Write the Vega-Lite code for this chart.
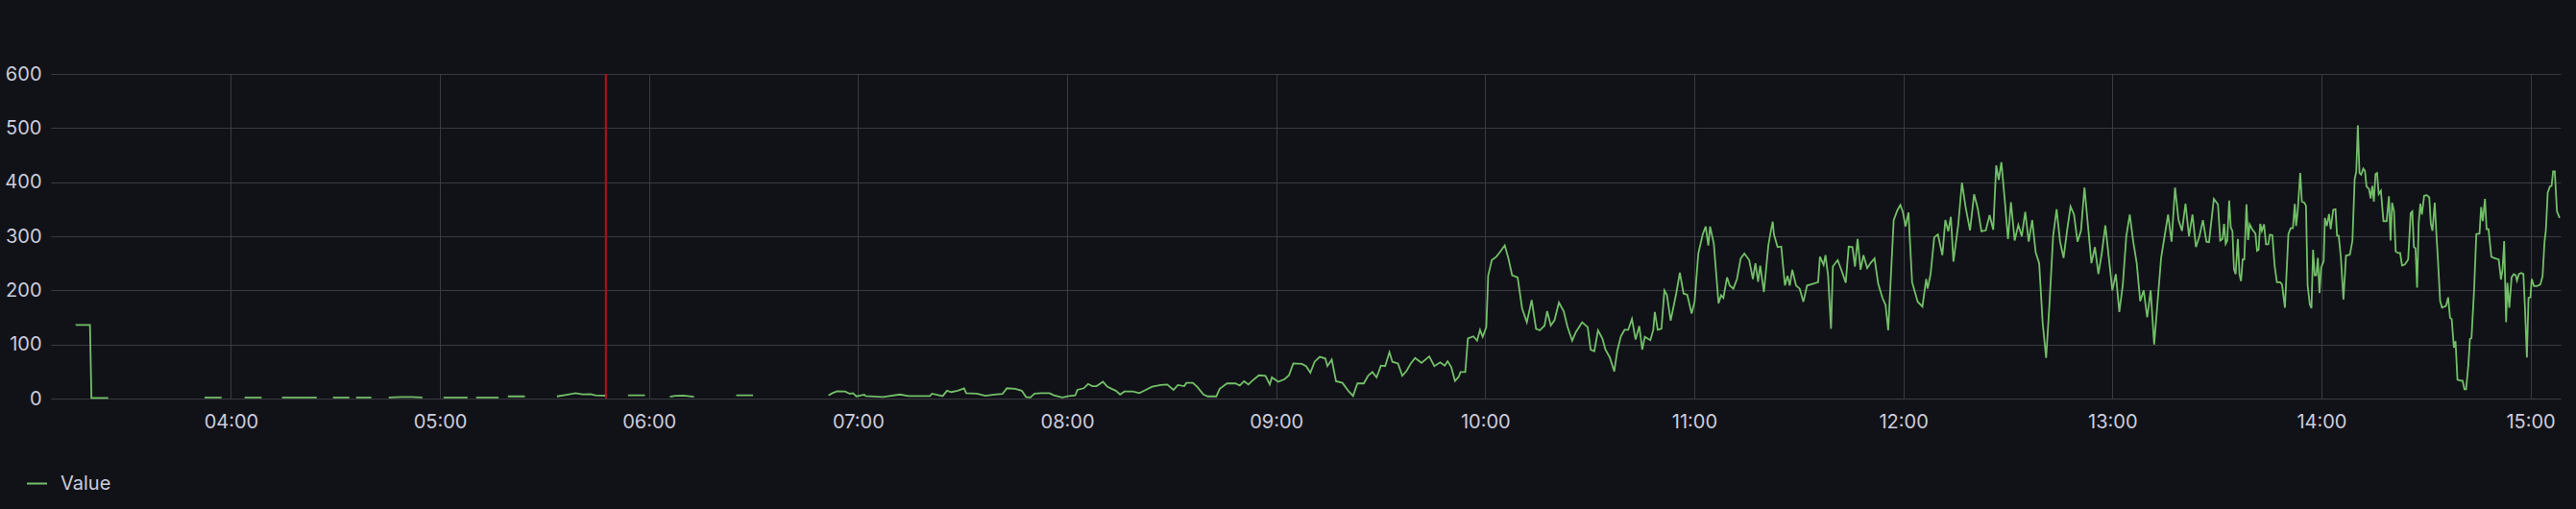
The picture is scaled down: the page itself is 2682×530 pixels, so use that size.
{
  "$schema": "https://vega.github.io/schema/vega-lite/v6.json",
  "width": 2613,
  "height": 338,
  "autosize": {"type": "none"},
  "padding": {"left": 53, "top": 77, "right": 16, "bottom": 115},
  "background": "#111217",
  "config": {
    "view": {"stroke": null},
    "font": "Inter",
    "axis": {"domain": false, "ticks": false, "gridColor": "#3a3b40", "gridWidth": 1, "labelColor": "#ccccdc", "labelFont": "Inter", "labelFontSize": 20, "title": null, "labelFlush": false}
  },
  "layer": [
    {
      "data": {
        "values": [
          {"t":"2024-01-01T03:15:25","v":136},{"t":"2024-01-01T03:19:33","v":136},{"t":"2024-01-01T03:19:58","v":1},{"t":"2024-01-01T03:24:47","v":1},{"t":"2024-01-01T03:30:00","v":null},
          {"t":"2024-01-01T03:52:27","v":2},{"t":"2024-01-01T03:57:20","v":2},{"t":"2024-01-01T04:00:30","v":null},
          {"t":"2024-01-01T04:03:56","v":2},{"t":"2024-01-01T04:08:49","v":2},{"t":"2024-01-01T04:11:00","v":null},
          {"t":"2024-01-01T04:14:40","v":2},{"t":"2024-01-01T04:24:39","v":2},{"t":"2024-01-01T04:27:00","v":null},
          {"t":"2024-01-01T04:29:18","v":2},{"t":"2024-01-01T04:34:00","v":2},{"t":"2024-01-01T04:35:00","v":null},
          {"t":"2024-01-01T04:35:56","v":2},{"t":"2024-01-01T04:40:19","v":2},{"t":"2024-01-01T04:43:00","v":null},
          {"t":"2024-01-01T04:45:18","v":2},{"t":"2024-01-01T04:49:00","v":3},{"t":"2024-01-01T04:52:00","v":3},{"t":"2024-01-01T04:54:58","v":2},{"t":"2024-01-01T04:58:00","v":null},
          {"t":"2024-01-01T05:01:01","v":2},{"t":"2024-01-01T05:07:55","v":2},{"t":"2024-01-01T05:09:00","v":null},
          {"t":"2024-01-01T05:10:24","v":2},{"t":"2024-01-01T05:16:49","v":2},{"t":"2024-01-01T05:18:00","v":null},
          {"t":"2024-01-01T05:19:30","v":4},{"t":"2024-01-01T05:24:22","v":4},{"t":"2024-01-01T05:29:00","v":null},
          {"t":"2024-01-01T05:33:34","v":4},{"t":"2024-01-01T05:36:19","v":7},{"t":"2024-01-01T05:38:53","v":10},{"t":"2024-01-01T05:40:55","v":7.7},{"t":"2024-01-01T05:43:13","v":8.3},{"t":"2024-01-01T05:44:35","v":6},{"t":"2024-01-01T05:47:49","v":5.3},{"t":"2024-01-01T05:50:00","v":null},
          {"t":"2024-01-01T05:53:58","v":6},{"t":"2024-01-01T05:58:50","v":6},{"t":"2024-01-01T06:02:00","v":null},
          {"t":"2024-01-01T06:06:00","v":3.5},{"t":"2024-01-01T06:07:34","v":5},{"t":"2024-01-01T06:09:52","v":5.5},{"t":"2024-01-01T06:12:54","v":3.5},{"t":"2024-01-01T06:19:00","v":null},
          {"t":"2024-01-01T06:25:02","v":6},{"t":"2024-01-01T06:29:53","v":6},{"t":"2024-01-01T06:40:00","v":null},
          {"t":"2024-01-01T06:51:31","v":5.9},{"t":"2024-01-01T06:52:37","v":10},{"t":"2024-01-01T06:53:59","v":13.6},{"t":"2024-01-01T06:56:17","v":13},{"t":"2024-01-01T06:57:40","v":8.9},{"t":"2024-01-01T06:58:34","v":10},{"t":"2024-01-01T06:59:30","v":4},{"t":"2024-01-01T07:00:53","v":6},{"t":"2024-01-01T07:01:47","v":7},
          {"t":"2024-01-01T07:02:13","v":4.6},{"t":"2024-01-01T07:07:07","v":3},{"t":"2024-01-01T07:12:01","v":7.5},{"t":"2024-01-01T07:14:29","v":4.6},{"t":"2024-01-01T07:20:37","v":4.6},{"t":"2024-01-01T07:21:14","v":9},{"t":"2024-01-01T07:24:17","v":4.6},{"t":"2024-01-01T07:25:31","v":14.5},{"t":"2024-01-01T07:26:45","v":12},{"t":"2024-01-01T07:28:35","v":14.5},{"t":"2024-01-01T07:30:26","v":19},{"t":"2024-01-01T07:31:02","v":10},{"t":"2024-01-01T07:34:07","v":9},{"t":"2024-01-01T07:36:34","v":5},{"t":"2024-01-01T07:39:01","v":7.5},{"t":"2024-01-01T07:41:28","v":8.5},{"t":"2024-01-01T07:42:42","v":19},{"t":"2024-01-01T07:45:09","v":18},{"t":"2024-01-01T07:46:59","v":14.5},{"t":"2024-01-01T07:48:13","v":3},{"t":"2024-01-01T07:49:27","v":2},{"t":"2024-01-01T07:50:40","v":9},{"t":"2024-01-01T07:52:31","v":10},{"t":"2024-01-01T07:54:58","v":10},{"t":"2024-01-01T07:56:12","v":6},{"t":"2024-01-01T07:58:39","v":2},
          {"t":"2024-01-01T08:00:29","v":4.6},{"t":"2024-01-01T08:02:20","v":5.8},{"t":"2024-01-01T08:02:57","v":16},{"t":"2024-01-01T08:04:47","v":19},{"t":"2024-01-01T08:06:01","v":27},{"t":"2024-01-01T08:07:14","v":23},{"t":"2024-01-01T08:08:28","v":23},{"t":"2024-01-01T08:10:18","v":31},{"t":"2024-01-01T08:11:32","v":22},{"t":"2024-01-01T08:12:46","v":18},{"t":"2024-01-01T08:13:59","v":14.5},{"t":"2024-01-01T08:15:13","v":7.5},{"t":"2024-01-01T08:16:26","v":13},{"t":"2024-01-01T08:18:54","v":13},{"t":"2024-01-01T08:20:44","v":10},{"t":"2024-01-01T08:22:35","v":16},{"t":"2024-01-01T08:24:25","v":22},{"t":"2024-01-01T08:26:52","v":25},{"t":"2024-01-01T08:28:43","v":26},{"t":"2024-01-01T08:30:33","v":16},{"t":"2024-01-01T08:31:47","v":25},{"t":"2024-01-01T08:33:37","v":23},{"t":"2024-01-01T08:34:14","v":29},{"t":"2024-01-01T08:36:04","v":29},{"t":"2024-01-01T08:37:18","v":22},{"t":"2024-01-01T08:39:08","v":7.5},{"t":"2024-01-01T08:40:22","v":4},{"t":"2024-01-01T08:42:49","v":4},{"t":"2024-01-01T08:43:48","v":18},{"t":"2024-01-01T08:45:53","v":28},{"t":"2024-01-01T08:48:20","v":28},{"t":"2024-01-01T08:49:34","v":24},{"t":"2024-01-01T08:50:48","v":32},{"t":"2024-01-01T08:52:01","v":26},{"t":"2024-01-01T08:53:15","v":33.5},{"t":"2024-01-01T08:55:05","v":43},{"t":"2024-01-01T08:56:56","v":42},{"t":"2024-01-01T08:58:10","v":26},{"t":"2024-01-01T08:58:46","v":39},
          {"t":"2024-01-01T09:00:37","v":31},{"t":"2024-01-01T09:02:27","v":36},{"t":"2024-01-01T09:03:41","v":43},{"t":"2024-01-01T09:04:55","v":65},{"t":"2024-01-01T09:07:22","v":64},{"t":"2024-01-01T09:08:35","v":60},{"t":"2024-01-01T09:09:49","v":48},{"t":"2024-01-01T09:11:02","v":68},{"t":"2024-01-01T09:12:31","v":77},{"t":"2024-01-01T09:14:07","v":74},{"t":"2024-01-01T09:14:43","v":60},{"t":"2024-01-01T09:15:57","v":72},{"t":"2024-01-01T09:17:11","v":32},{"t":"2024-01-01T09:19:01","v":29},{"t":"2024-01-01T09:20:52","v":13},{"t":"2024-01-01T09:22:05","v":4.6},{"t":"2024-01-01T09:23:19","v":28},{"t":"2024-01-01T09:25:09","v":28},{"t":"2024-01-01T09:26:23","v":42},{"t":"2024-01-01T09:27:37","v":49},{"t":"2024-01-01T09:28:50","v":39},{"t":"2024-01-01T09:30:04","v":61},{"t":"2024-01-01T09:31:17","v":60},{"t":"2024-01-01T09:32:31","v":85.5},{"t":"2024-01-01T09:33:22","v":68},{"t":"2024-01-01T09:34:58","v":65},{"t":"2024-01-01T09:36:12","v":42},{"t":"2024-01-01T09:37:25","v":51},{"t":"2024-01-01T09:38:39","v":65},{"t":"2024-01-01T09:39:53","v":75},{"t":"2024-01-01T09:41:43","v":66},{"t":"2024-01-01T09:43:56","v":78},{"t":"2024-01-01T09:45:24","v":60},
          {"t":"2024-01-01T09:47:05","v":67},{"t":"2024-01-01T09:48:22","v":61},{"t":"2024-01-01T09:49:13","v":69},{"t":"2024-01-01T09:50:16","v":58},{"t":"2024-01-01T09:51:19","v":32.5},{"t":"2024-01-01T09:52:23","v":40},{"t":"2024-01-01T09:52:55","v":49},{"t":"2024-01-01T09:54:17","v":49},{"t":"2024-01-01T09:55:02","v":111},{"t":"2024-01-01T09:56:37","v":115},{"t":"2024-01-01T09:57:40","v":107},{"t":"2024-01-01T09:58:31","v":127},{"t":"2024-01-01T09:59:16","v":114},
          {"t":"2024-01-01T10:00:19","v":132},{"t":"2024-01-01T10:00:51","v":227},{"t":"2024-01-01T10:01:54","v":256},{"t":"2024-01-01T10:03:10","v":262},{"t":"2024-01-01T10:04:01","v":269},{"t":"2024-01-01T10:05:37","v":283},{"t":"2024-01-01T10:06:40","v":259},{"t":"2024-01-01T10:07:43","v":228},{"t":"2024-01-01T10:09:19","v":224},{"t":"2024-01-01T10:10:35","v":167},{"t":"2024-01-01T10:11:57","v":141},{"t":"2024-01-01T10:13:20","v":182},{"t":"2024-01-01T10:14:36","v":129},{"t":"2024-01-01T10:15:40","v":126},{"t":"2024-01-01T10:17:02","v":135},{"t":"2024-01-01T10:17:47","v":161.5},{"t":"2024-01-01T10:18:50","v":135},{"t":"2024-01-01T10:19:54","v":145},{"t":"2024-01-01T10:21:10","v":177.5},{"t":"2024-01-01T10:22:32","v":161.5},{"t":"2024-01-01T10:23:36","v":133},{"t":"2024-01-01T10:24:58","v":107},{"t":"2024-01-01T10:26:02","v":123},{"t":"2024-01-01T10:27:50","v":141},{"t":"2024-01-01T10:29:25","v":132},{"t":"2024-01-01T10:30:16","v":90.5},{"t":"2024-01-01T10:31:19","v":87.5},{"t":"2024-01-01T10:32:23","v":126},{"t":"2024-01-01T10:33:39","v":111},{"t":"2024-01-01T10:34:30","v":90.5},{"t":"2024-01-01T10:35:46","v":76},{"t":"2024-01-01T10:37:02","v":50},{"t":"2024-01-01T10:37:53","v":87.5},{"t":"2024-01-01T10:38:56","v":115},{"t":"2024-01-01T10:40:00","v":127},{"t":"2024-01-01T10:41:03","v":127},{"t":"2024-01-01T10:42:07","v":147},{"t":"2024-01-01T10:43:10","v":109},{"t":"2024-01-01T10:44:14","v":134},{"t":"2024-01-01T10:45:05","v":90.5},{"t":"2024-01-01T10:45:49","v":114},{"t":"2024-01-01T10:47:24","v":108},{"t":"2024-01-01T10:48:15","v":127},{"t":"2024-01-01T10:48:41","v":160},{"t":"2024-01-01T10:49:31","v":127},{"t":"2024-01-01T10:50:35","v":129},{"t":"2024-01-01T10:51:26","v":200},{"t":"2024-01-01T10:52:10","v":191},{"t":"2024-01-01T10:53:14","v":144},{"t":"2024-01-01T10:54:49","v":194},{"t":"2024-01-01T10:55:52","v":232.5},{"t":"2024-01-01T10:56:56","v":194},{"t":"2024-01-01T10:57:59","v":192},{"t":"2024-01-01T10:59:15","v":157},
          {"t":"2024-01-01T11:00:06","v":179},{"t":"2024-01-01T11:01:10","v":268},{"t":"2024-01-01T11:02:26","v":303.5},{"t":"2024-01-01T11:03:17","v":318},{"t":"2024-01-01T11:04:02","v":283},{"t":"2024-01-01T11:04:33","v":318},{"t":"2024-01-01T11:05:37","v":286},{"t":"2024-01-01T11:06:59","v":176},{"t":"2024-01-01T11:07:43","v":191},{"t":"2024-01-01T11:08:22","v":186},{"t":"2024-01-01T11:09:25","v":224},{"t":"2024-01-01T11:10:10","v":209},{"t":"2024-01-01T11:11:13","v":203},{"t":"2024-01-01T11:12:16","v":221},{"t":"2024-01-01T11:13:20","v":259},{"t":"2024-01-01T11:14:23","v":268},{"t":"2024-01-01T11:15:46","v":256},{"t":"2024-01-01T11:16:50","v":221},{"t":"2024-01-01T11:17:34","v":250},{"t":"2024-01-01T11:18:19","v":216},{"t":"2024-01-01T11:18:56","v":245.5},{"t":"2024-01-01T11:20:00","v":197},{"t":"2024-01-01T11:21:16","v":283},{"t":"2024-01-01T11:22:01","v":311},{"t":"2024-01-01T11:22:32","v":327},{"t":"2024-01-01T11:22:52","v":303.5},{"t":"2024-01-01T11:23:55","v":280},{"t":"2024-01-01T11:24:58","v":281},{"t":"2024-01-01T11:26:02","v":209},{"t":"2024-01-01T11:26:46","v":227},{"t":"2024-01-01T11:27:25","v":209},{"t":"2024-01-01T11:28:09","v":238},{"t":"2024-01-01T11:29:13","v":209},{"t":"2024-01-01T11:30:16","v":203},{"t":"2024-01-01T11:31:19","v":179},{"t":"2024-01-01T11:32:23","v":209},{"t":"2024-01-01T11:33:58","v":212},{"t":"2024-01-01T11:35:33","v":215},{"t":"2024-01-01T11:36:05","v":262},{"t":"2024-01-01T11:37:08","v":247},{"t":"2024-01-01T11:37:40","v":265},{"t":"2024-01-01T11:38:25","v":227},{"t":"2024-01-01T11:39:15","v":129},{"t":"2024-01-01T11:39:47","v":244},{"t":"2024-01-01T11:41:10","v":256},{"t":"2024-01-01T11:42:26","v":234},{"t":"2024-01-01T11:43:29","v":214},{"t":"2024-01-01T11:44:20","v":281},{"t":"2024-01-01T11:45:24","v":280},{"t":"2024-01-01T11:46:08","v":244},{"t":"2024-01-01T11:46:53","v":295},{"t":"2024-01-01T11:47:44","v":238},{"t":"2024-01-01T11:48:34","v":265},{"t":"2024-01-01T11:49:38","v":241},{"t":"2024-01-01T11:50:41","v":251},{"t":"2024-01-01T11:51:45","v":259},{"t":"2024-01-01T11:52:48","v":212},{"t":"2024-01-01T11:54:04","v":185},{"t":"2024-01-01T11:54:55","v":173},{"t":"2024-01-01T11:55:40","v":126},{"t":"2024-01-01T11:56:24","v":221},{"t":"2024-01-01T11:57:15","v":330},{"t":"2024-01-01T11:58:18","v":348},{"t":"2024-01-01T11:59:09","v":358},{"t":"2024-01-01T11:59:53","v":345},
          {"t":"2024-01-01T12:00:38","v":318},{"t":"2024-01-01T12:01:29","v":344},{"t":"2024-01-01T12:02:32","v":215},{"t":"2024-01-01T12:04:08","v":179},{"t":"2024-01-01T12:05:30","v":170},{"t":"2024-01-01T12:06:34","v":221},{"t":"2024-01-01T12:06:59","v":203},{"t":"2024-01-01T12:07:50","v":230},{"t":"2024-01-01T12:08:53","v":298},{"t":"2024-01-01T12:09:56","v":303.5},{"t":"2024-01-01T12:11:13","v":265},{"t":"2024-01-01T12:12:04","v":330},{"t":"2024-01-01T12:12:55","v":309},{"t":"2024-01-01T12:13:39","v":336},{"t":"2024-01-01T12:14:23","v":253},{"t":"2024-01-01T12:15:46","v":321},{"t":"2024-01-01T12:16:50","v":399},{"t":"2024-01-01T12:17:53","v":354},{"t":"2024-01-01T12:19:09","v":311},{"t":"2024-01-01T12:20:19","v":377.5},{"t":"2024-01-01T12:21:23","v":351},{"t":"2024-01-01T12:22:26","v":309},{"t":"2024-01-01T12:23:42","v":311},{"t":"2024-01-01T12:24:46","v":339},{"t":"2024-01-01T12:25:49","v":312},{"t":"2024-01-01T12:26:40","v":431},{"t":"2024-01-01T12:27:24","v":404},{"t":"2024-01-01T12:28:09","v":437},{"t":"2024-01-01T12:29:13","v":360},{"t":"2024-01-01T12:30:03","v":295},{"t":"2024-01-01T12:30:54","v":363},{"t":"2024-01-01T12:31:58","v":292},{"t":"2024-01-01T12:33:01","v":321},
          {"t":"2024-01-01T12:34:00","v":300},{"t":"2024-01-01T12:35:00","v":345},{"t":"2024-01-01T12:36:00","v":290},{"t":"2024-01-01T12:37:00","v":330},{"t":"2024-01-01T12:38:00","v":270},{"t":"2024-01-01T12:39:00","v":250},{"t":"2024-01-01T12:40:00","v":140},{"t":"2024-01-01T12:41:00","v":75},{"t":"2024-01-01T12:42:00","v":180},{"t":"2024-01-01T12:43:00","v":300},{"t":"2024-01-01T12:44:00","v":350},{"t":"2024-01-01T12:45:00","v":290},{"t":"2024-01-01T12:46:00","v":260},{"t":"2024-01-01T12:47:00","v":310},{"t":"2024-01-01T12:48:00","v":355},{"t":"2024-01-01T12:49:00","v":340},{"t":"2024-01-01T12:50:00","v":290},{"t":"2024-01-01T12:51:00","v":310},{"t":"2024-01-01T12:52:00","v":390},{"t":"2024-01-01T12:53:00","v":320},{"t":"2024-01-01T12:54:00","v":250},{"t":"2024-01-01T12:55:00","v":280},{"t":"2024-01-01T12:56:00","v":230},{"t":"2024-01-01T12:57:00","v":270},{"t":"2024-01-01T12:58:00","v":320},{"t":"2024-01-01T12:59:00","v":260},
          {"t":"2024-01-01T13:00:00","v":200},{"t":"2024-01-01T13:01:00","v":230},{"t":"2024-01-01T13:02:00","v":160},{"t":"2024-01-01T13:03:00","v":210},{"t":"2024-01-01T13:04:00","v":300},{"t":"2024-01-01T13:05:00","v":340},{"t":"2024-01-01T13:06:00","v":290},{"t":"2024-01-01T13:07:00","v":250},{"t":"2024-01-01T13:08:00","v":180},{"t":"2024-01-01T13:09:00","v":200},{"t":"2024-01-01T13:10:00","v":150},{"t":"2024-01-01T13:11:00","v":200},{"t":"2024-01-01T13:12:00","v":100},{"t":"2024-01-01T13:13:00","v":180},{"t":"2024-01-01T13:14:00","v":260},{"t":"2024-01-01T13:15:00","v":300},{"t":"2024-01-01T13:16:00","v":340},{"t":"2024-01-01T13:17:00","v":290},{"t":"2024-01-01T13:18:00","v":390},{"t":"2024-01-01T13:19:00","v":330},{"t":"2024-01-01T13:20:00","v":310},{"t":"2024-01-01T13:21:00","v":360},{"t":"2024-01-01T13:22:00","v":300},{"t":"2024-01-01T13:23:00","v":340},{"t":"2024-01-01T13:24:00","v":280},{"t":"2024-01-01T13:25:00","v":300},{"t":"2024-01-01T13:26:00","v":330},{"t":"2024-01-01T13:27:00","v":290},
          {"t":"2024-01-01T13:27:45","v":289},{"t":"2024-01-01T13:29:08","v":369},{"t":"2024-01-01T13:30:19","v":359},{"t":"2024-01-01T13:30:58","v":292},{"t":"2024-01-01T13:31:37","v":295},{"t":"2024-01-01T13:32:04","v":323},{"t":"2024-01-01T13:32:32","v":286},{"t":"2024-01-01T13:32:59","v":292},{"t":"2024-01-01T13:33:32","v":366},{"t":"2024-01-01T13:34:00","v":316},{"t":"2024-01-01T13:34:28","v":310},{"t":"2024-01-01T13:34:55","v":239},{"t":"2024-01-01T13:35:23","v":230},{"t":"2024-01-01T13:36:01","v":295},{"t":"2024-01-01T13:36:29","v":230},{"t":"2024-01-01T13:36:56","v":217},{"t":"2024-01-01T13:37:24","v":257},{"t":"2024-01-01T13:37:52","v":257},{"t":"2024-01-01T13:38:30","v":359},{"t":"2024-01-01T13:38:58","v":293},{"t":"2024-01-01T13:39:25","v":322},{"t":"2024-01-01T13:40:09","v":313},{"t":"2024-01-01T13:41:04","v":305},{"t":"2024-01-01T13:41:32","v":273},{"t":"2024-01-01T13:41:59","v":275},{"t":"2024-01-01T13:42:27","v":323},{"t":"2024-01-01T13:42:55","v":310},{"t":"2024-01-01T13:43:33","v":322},{"t":"2024-01-01T13:44:06","v":285},{"t":"2024-01-01T13:44:45","v":285},{"t":"2024-01-01T13:45:13","v":303},{"t":"2024-01-01T13:45:56","v":302},{"t":"2024-01-01T13:46:35","v":245},{"t":"2024-01-01T13:47:14","v":215},{"t":"2024-01-01T13:48:09","v":215},{"t":"2024-01-01T13:48:42","v":211},{"t":"2024-01-01T13:49:32","v":168},{"t":"2024-01-01T13:50:32","v":304},{"t":"2024-01-01T13:51:11","v":315},{"t":"2024-01-01T13:51:49","v":315},{"t":"2024-01-01T13:52:22","v":360},{"t":"2024-01-01T13:52:44","v":319},{"t":"2024-01-01T13:53:12","v":346},{"t":"2024-01-01T13:53:56","v":417},{"t":"2024-01-01T13:54:24","v":364},{"t":"2024-01-01T13:55:08","v":362},{"t":"2024-01-01T13:55:35","v":356},{"t":"2024-01-01T13:56:03","v":209},{"t":"2024-01-01T13:56:41","v":174},{"t":"2024-01-01T13:57:09","v":167},{"t":"2024-01-01T13:57:37","v":275},{"t":"2024-01-01T13:58:04","v":228},{"t":"2024-01-01T13:58:32","v":228},{"t":"2024-01-01T13:58:59","v":260},{"t":"2024-01-01T13:59:27","v":195},{"t":"2024-01-01T13:59:55","v":242},
          {"t":"2024-01-01T14:00:39","v":254},{"t":"2024-01-01T14:01:01","v":334},{"t":"2024-01-01T14:01:34","v":319},{"t":"2024-01-01T14:02:12","v":341},{"t":"2024-01-01T14:02:40","v":313},{"t":"2024-01-01T14:03:24","v":349},{"t":"2024-01-01T14:04:03","v":350},{"t":"2024-01-01T14:04:30","v":301},{"t":"2024-01-01T14:04:58","v":301},{"t":"2024-01-01T14:05:36","v":260},{"t":"2024-01-01T14:06:20","v":183},{"t":"2024-01-01T14:07:04","v":264},{"t":"2024-01-01T14:08:11","v":266},{"t":"2024-01-01T14:08:55","v":292},{"t":"2024-01-01T14:09:33","v":405},{"t":"2024-01-01T14:10:01","v":420},{"t":"2024-01-01T14:10:28","v":505},{"t":"2024-01-01T14:10:56","v":417},{"t":"2024-01-01T14:11:24","v":414},{"t":"2024-01-01T14:12:02","v":425},{"t":"2024-01-01T14:12:30","v":421},{"t":"2024-01-01T14:12:57","v":392},{"t":"2024-01-01T14:13:41","v":387},{"t":"2024-01-01T14:14:09","v":370},{"t":"2024-01-01T14:14:37","v":393},{"t":"2024-01-01T14:15:04","v":364},{"t":"2024-01-01T14:15:32","v":415},{"t":"2024-01-01T14:15:59","v":417},{"t":"2024-01-01T14:16:27","v":378},{"t":"2024-01-01T14:17:05","v":384},{"t":"2024-01-01T14:17:49","v":328},{"t":"2024-01-01T14:18:44","v":328},{"t":"2024-01-01T14:19:23","v":374},{"t":"2024-01-01T14:19:51","v":292},{"t":"2024-01-01T14:20:18","v":362},{"t":"2024-01-01T14:20:51","v":346},{"t":"2024-01-01T14:21:19","v":272},{"t":"2024-01-01T14:21:58","v":269},{"t":"2024-01-01T14:22:36","v":269},{"t":"2024-01-01T14:23:09","v":246},{"t":"2024-01-01T14:23:59","v":248},{"t":"2024-01-01T14:24:54","v":257},{"t":"2024-01-01T14:25:38","v":343},{"t":"2024-01-01T14:26:05","v":346},{"t":"2024-01-01T14:26:33","v":280},{"t":"2024-01-01T14:27:01","v":278},{"t":"2024-01-01T14:27:28","v":205},{"t":"2024-01-01T14:27:56","v":325},{"t":"2024-01-01T14:28:24","v":360},{"t":"2024-01-01T14:28:51","v":340},{"t":"2024-01-01T14:29:30","v":375},{"t":"2024-01-01T14:30:14","v":376},{"t":"2024-01-01T14:30:58","v":372},{"t":"2024-01-01T14:31:25","v":323},{"t":"2024-01-01T14:31:53","v":310},{"t":"2024-01-01T14:32:32","v":362},{"t":"2024-01-01T14:32:59","v":307},{"t":"2024-01-01T14:33:27","v":257},{"t":"2024-01-01T14:34:05","v":180},{"t":"2024-01-01T14:34:38","v":168},{"t":"2024-01-01T14:35:45","v":171},{"t":"2024-01-01T14:36:23","v":187},{"t":"2024-01-01T14:36:56","v":149},{"t":"2024-01-01T14:37:24","v":147},{"t":"2024-01-01T14:38:02","v":94},{"t":"2024-01-01T14:38:30","v":106},{"t":"2024-01-01T14:39:03","v":35},{"t":"2024-01-01T14:39:53","v":33},{"t":"2024-01-01T14:40:31","v":33},{"t":"2024-01-01T14:41:04","v":17},{"t":"2024-01-01T14:41:32","v":17},{"t":"2024-01-01T14:42:11","v":62},{"t":"2024-01-01T14:42:38","v":110},{"t":"2024-01-01T14:43:05","v":112},{"t":"2024-01-01T14:43:50","v":201},{"t":"2024-01-01T14:44:28","v":304},{"t":"2024-01-01T14:45:23","v":305},{"t":"2024-01-01T14:45:51","v":354},{"t":"2024-01-01T14:46:19","v":328},{"t":"2024-01-01T14:46:57","v":369},{"t":"2024-01-01T14:47:25","v":313},{"t":"2024-01-01T14:47:58","v":313},{"t":"2024-01-01T14:48:47","v":262},{"t":"2024-01-01T14:49:31","v":260},{"t":"2024-01-01T14:50:54","v":257},{"t":"2024-01-01T14:51:33","v":220},{"t":"2024-01-01T14:52:00","v":239},{"t":"2024-01-01T14:52:28","v":291},{"t":"2024-01-01T14:53:01","v":141},{"t":"2024-01-01T14:53:23","v":214},{"t":"2024-01-01T14:53:56","v":168},{"t":"2024-01-01T14:54:35","v":224},{"t":"2024-01-01T14:55:13","v":230},{"t":"2024-01-01T14:55:46","v":228},{"t":"2024-01-01T14:56:08","v":218},{"t":"2024-01-01T14:56:41","v":230},{"t":"2024-01-01T14:57:20","v":232},{"t":"2024-01-01T14:57:59","v":230},{"t":"2024-01-01T14:58:26","v":168},{"t":"2024-01-01T14:58:59","v":76},{"t":"2024-01-01T14:59:27","v":186},
          {"t":"2024-01-01T15:00:00","v":187},{"t":"2024-01-01T15:00:22","v":221},{"t":"2024-01-01T15:01:01","v":208},{"t":"2024-01-01T15:01:56","v":208},{"t":"2024-01-01T15:02:51","v":211},{"t":"2024-01-01T15:03:29","v":226},{"t":"2024-01-01T15:04:02","v":289},{"t":"2024-01-01T15:04:25","v":310},{"t":"2024-01-01T15:04:58","v":381},{"t":"2024-01-01T15:05:36","v":392},{"t":"2024-01-01T15:06:04","v":393},{"t":"2024-01-01T15:06:31","v":420},{"t":"2024-01-01T15:06:59","v":420},{"t":"2024-01-01T15:07:37","v":346},{"t":"2024-01-01T15:08:22","v":334}
        ]
      },
      "mark": {"type": "line", "strokeWidth": 1.8},
      "encoding": {
        "x": {
          "field": "t", "type": "temporal",
          "scale": {"domain": [
            {"year": 2024, "month": 1, "date": 1, "hours": 3, "minutes": 8, "seconds": 20},
            {"year": 2024, "month": 1, "date": 1, "hours": 15, "minutes": 8, "seconds": 40}
          ]},
          "axis": {"format": "%H:%M", "values": [
            {"year": 2024, "month": 1, "date": 1, "hours": 4},
            {"year": 2024, "month": 1, "date": 1, "hours": 5},
            {"year": 2024, "month": 1, "date": 1, "hours": 6},
            {"year": 2024, "month": 1, "date": 1, "hours": 7},
            {"year": 2024, "month": 1, "date": 1, "hours": 8},
            {"year": 2024, "month": 1, "date": 1, "hours": 9},
            {"year": 2024, "month": 1, "date": 1, "hours": 10},
            {"year": 2024, "month": 1, "date": 1, "hours": 11},
            {"year": 2024, "month": 1, "date": 1, "hours": 12},
            {"year": 2024, "month": 1, "date": 1, "hours": 13},
            {"year": 2024, "month": 1, "date": 1, "hours": 14},
            {"year": 2024, "month": 1, "date": 1, "hours": 15}
          ], "labelPadding": 14, "labelFlush": false}
        },
        "y": {
          "field": "v", "type": "quantitative",
          "scale": {"domain": [0, 600], "nice": false},
          "axis": {"values": [0, 100, 200, 300, 400, 500, 600], "labelPadding": 10, "labelFlush": false}
        },
        "color": {
          "datum": "Value",
          "scale": {"range": ["#73bf69"]},
          "legend": {"orient": "none", "legendX": -26, "legendY": 415, "title": null, "symbolType": "stroke", "symbolSize": 441, "symbolStrokeWidth": 2, "labelFontSize": 20, "labelFont": "Inter", "labelColor": "#ccccdc", "labelOffset": 13, "padding": 0}
        }
      }
    },
    {
      "data": {"values": [{"t": "2024-01-01T05:47:37"}]},
      "mark": {"type": "rule", "color": "#b0121f", "strokeWidth": 2},
      "encoding": {"x": {"field": "t", "type": "temporal"}}
    }
  ]
}
